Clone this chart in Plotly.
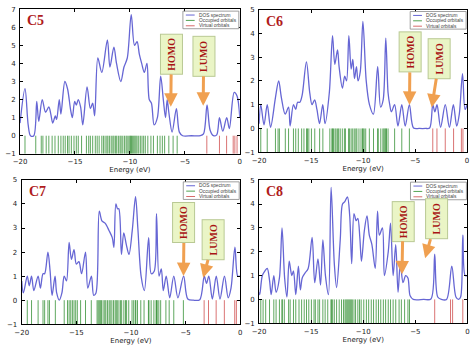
import plotly.graph_objects as go

W, H = 474, 351

# ---------------- data ----------------
panel_names = ["C5", "C6", "C7", "C8"]
y_max = [7, 5, 5, 5]
x_ticks = [-20, -15, -10, -5, 0]

c5_energy = [-20.0, -19.55, -19.26, -19.05, -18.75, -18.48, -18.30, -17.98, -17.68, -17.38,
             -17.20, -17.02, -16.79, -16.67, -16.43, -16.28, -15.92, -15.68, -15.39, -15.24,
             -15.03, -14.88, -14.70, -14.49, -14.29, -13.90, -13.60, -13.39, -13.21, -12.92,
             -12.56, -12.05, -11.82, -11.46, -11.22, -10.83, -10.54, -10.24, -9.88, -9.58,
             -9.35, -9.14, -8.93, -8.69, -8.45, -8.24, -8.04, -7.80, -7.50, -7.20,
             -6.96, -6.76, -6.61, -6.46, -6.16, -5.77, -5.50, -5.20, -4.40, -3.60,
             -3.30, -2.98, -2.70, -2.40, -2.10, -1.85, -1.55, -1.19, -0.95, -0.51,
             -0.25, 0.0]
c5_dos = [0.7, 2.6, 0.6, 0.0, 0.0, 1.9, 0.8, 2.0, 1.3, 1.6,
          1.2, 0.7, 1.1, 0.9, 2.0, 1.2, 3.0, 2.6, 1.4, 1.0,
          1.9, 1.7, 2.0, 1.6, 0.6, 2.7, 1.5, 1.8, 1.1, 4.3,
          3.5, 5.3, 3.8, 4.9, 4.0, 3.0, 3.8, 4.3, 6.7, 5.0,
          5.2, 4.5, 4.0, 3.5, 4.0, 2.0, 1.8, 0.6, 1.0, 3.3,
          2.0, 1.0, 2.0, 1.3, 0.2, 1.5, 0.2, 0.0, 0.0, 0.0,
          0.1, 1.7, 0.3, 0.0, 0.05, 1.0, 0.25, 1.0, 0.4, 2.4,
          2.2, 1.0]
c5_occupied = [-19.55, -18.57, -18.07, -17.92, -17.62, -17.38, -17.08, -16.82, -16.52, -16.28,
               -16.07, -15.89, -15.68, -15.54, -15.33, -15.09, -14.88, -14.70, -14.40, -13.96,
               -13.75, -13.60, -13.39, -13.15, -12.98, -12.80, -12.56, -12.41, -12.26, -12.10,
               -12.00, -11.85, -11.70, -11.55, -11.45, -11.30, -11.20, -11.05, -10.90, -10.80,
               -10.65, -10.50, -10.35, -10.25, -10.10, -10.00, -9.93, -9.85, -9.75, -9.65,
               -9.55, -9.45, -9.35, -9.20, -9.05, -8.90, -8.75, -8.60, -8.37, -8.09,
               -7.86, -7.50, -7.26, -7.05, -6.84, -6.46, -6.07, -5.70]
c5_virtual = [-3.0, -1.85, -1.2, -0.6, -0.45, -0.25]

c6_energy = [-20.0, -19.84, -19.53, -19.22, -18.90, -18.43, -18.12, -17.86, -17.49, -17.17,
             -17.02, -16.70, -16.48, -16.30, -16.08, -15.86, -15.45, -15.13, -14.91, -14.66,
             -14.44, -14.19, -13.88, -13.66, -13.25, -12.94, -12.72, -12.46, -12.31, -11.99,
             -11.77, -11.59, -11.37, -11.15, -10.99, -10.83, -10.64, -10.49, -10.27, -10.02,
             -9.70, -9.39, -9.01, -8.60, -8.32, -8.07, -7.82, -7.60, -7.44, -7.28,
             -6.97, -6.65, -6.28, -5.95, -5.55, -5.15, -4.60, -4.00, -3.60, -3.30,
             -3.10, -2.89, -2.55, -2.10, -1.70, -1.32, -1.00, -0.75, -0.44, -0.20,
             0.0]
c6_dos = [0.2, 1.0, 0.15, 1.0, 0.05, 1.3, 2.0, 1.3, 0.6, 0.9,
          0.1, 1.0, 0.8, 1.1, 1.1, 1.4, 2.8, 1.5, 1.0, 1.2,
          0.8, 0.2, 1.0, 0.2, 1.5, 3.9, 2.7, 3.3, 2.6, 1.7,
          2.2, 2.0, 3.9, 2.5, 2.9, 2.1, 2.6, 2.0, 2.4, 4.5,
          2.0, 1.0, 0.6, 2.6, 0.9, 1.2, 3.8, 1.5, 1.0, 0.7,
          1.0, 0.1, 1.0, 0.1, 1.0, 0.02, 0.0, 0.0, 0.02, 1.0,
          0.7, 1.0, 0.05, 1.0, 0.05, 1.0, 0.1, 0.6, 2.3, 0.8,
          1.0]
c6_occupied = [-19.84, -19.22, -18.43, -18.18, -18.05, -17.48, -17.17, -16.70, -16.48, -16.23,
               -15.91, -15.69, -15.44, -15.35, -15.22, -14.97, -14.65, -14.18, -13.87, -13.20,
               -13.00, -12.95, -12.85, -12.70, -12.60, -12.45, -12.35, -12.20, -12.00, -11.80,
               -11.70, -11.40, -11.30, -11.15, -11.00, -10.85, -10.70, -10.60, -10.40, -10.20,
               -10.05, -10.00, -9.90, -9.75, -9.40, -9.00, -8.60, -8.55, -8.30, -8.10,
               -8.00, -7.90, -7.82, -7.75, -7.60, -6.97, -6.28, -5.55]
c6_virtual = [-3.3, -2.9, -2.1, -1.3, -0.55, -0.4]

c7_energy = [-20.0, -19.85, -19.49, -19.31, -19.10, -18.89, -18.50, -18.29, -18.05, -17.90,
             -17.60, -17.40, -17.22, -16.95, -16.80, -16.56, -16.32, -16.11, -15.90, -15.66,
             -15.45, -15.21, -15.00, -14.76, -14.52, -14.16, -13.95, -13.62, -13.41, -13.20,
             -12.90, -12.66, -12.37, -12.01, -11.71, -11.56, -11.38, -11.23, -11.11, -10.87,
             -10.66, -10.42, -10.18, -9.88, -9.58, -9.37, -9.07, -8.77, -8.38, -8.14,
             -7.87, -7.66, -7.43, -7.22, -7.04, -6.77, -6.45, -6.08, -5.70, -5.18,
             -4.80, -4.30, -3.70, -3.29, -3.08, -2.87, -2.55, -2.19, -1.85, -1.44,
             -1.10, -0.84, -0.48, -0.22, 0.0]
c7_dos = [0.8, 0.3, 1.0, 0.6, 1.0, 0.4, 1.0, 0.5, 1.1, 1.1,
          2.0, 1.2, 0.2, 1.0, 0.3, 0.0, 0.3, 1.0, 0.8, 2.4,
          1.7, 2.1, 1.5, 1.6, 1.1, 2.0, 0.5, 1.0, 0.2, 0.3,
          3.7, 3.3, 3.2, 2.9, 2.6, 2.2, 4.0, 3.8, 3.8, 1.9,
          2.8, 2.3, 1.9, 2.9, 4.3, 3.0, 1.0, 0.4, 2.6, 1.1,
          1.2, 3.6, 1.0, 1.3, 0.4, 1.0, 0.1, 1.0, 0.1, 1.0,
          0.05, 0.0, 0.02, 1.0, 0.7, 1.0, 0.05, 1.0, 0.05, 1.0,
          0.1, 0.5, 2.2, 1.0, 1.0]
c7_occupied = [-19.49, -19.10, -18.50, -18.05, -17.90, -17.60, -17.46, -16.92, -16.11, -15.81,
               -15.66, -15.51, -15.36, -15.21, -15.06, -14.91, -14.61, -14.16, -13.63, -13.10,
               -13.00, -12.90, -12.80, -12.70, -12.55, -12.40, -12.30, -12.15, -12.00, -11.90,
               -11.75, -11.60, -11.45, -11.35, -11.25, -11.10, -10.95, -10.85, -10.65, -10.50,
               -10.40, -10.20, -9.90, -9.75, -9.60, -9.55, -9.40, -9.10, -8.80, -8.40,
               -8.35, -8.15, -7.90, -7.70, -7.65, -7.60, -7.45, -7.28, -6.80, -6.50,
               -6.08, -5.20]
c7_virtual = [-3.3, -2.9, -2.2, -1.45, -0.5, -0.35]

c8_energy = [-20.0, -19.94, -19.69, -19.43, -19.22, -19.00, -18.84, -18.59, -18.37, -18.05,
             -17.80, -17.55, -17.33, -17.11, -16.86, -16.70, -16.48, -16.23, -16.04, -15.86,
             -15.60, -15.29, -14.91, -14.66, -14.35, -14.10, -13.88, -13.63, -13.34, -13.09,
             -12.78, -12.56, -12.21, -11.99, -11.77, -11.52, -11.30, -11.11, -10.89, -10.68,
             -10.52, -10.33, -10.17, -9.89, -9.64, -9.42, -9.17, -8.85, -8.63, -8.45,
             -8.16, -7.97, -7.60, -7.38, -7.13, -6.88, -6.66, -6.44, -6.18, -5.93,
             -5.71, -5.50, -5.20, -4.20, -3.50, -3.14, -2.85, -2.50, -2.00, -1.50,
             -1.10, -0.85, -0.65, -0.44, -0.22, 0.0]
c8_dos = [0.3, 0.2, 1.0, 1.2, 1.3, 0.8, 0.2, 1.0, 0.3, 0.9,
          3.0, 0.9, 0.1, 1.6, 1.0, 1.2, 0.2, 1.4, 0.4, 0.9,
          1.1, 1.3, 2.6, 0.7, 1.7, 0.6, 2.5, 1.0, 0.2, 4.7,
          1.5, 0.5, 2.5, 4.0, 4.1, 4.3, 3.5, 1.5, 3.6, 3.3,
          3.4, 2.6, 1.6, 2.9, 3.5, 2.7, 2.3, 1.3, 3.7, 2.7,
          3.0, 1.0, 2.0, 3.2, 1.0, 2.3, 0.3, 1.5, 0.7, 1.0,
          0.9, 0.15, 0.0, 0.0, 0.02, 1.9, 0.1, 0.0, 0.0, 1.4,
          0.1, 0.0, 0.1, 2.7, 1.0, 1.0]
c8_occupied = [-19.84, -19.62, -19.37, -19.00, -18.59, -18.37, -18.05, -17.80, -17.78, -17.58,
               -17.17, -17.02, -16.70, -16.48, -16.17, -15.92, -15.67, -15.45, -15.23, -14.98,
               -14.73, -14.60, -14.35, -14.19, -13.88, -13.66, -13.41, -13.09, -13.07, -12.94,
               -12.78, -12.56, -12.31, -12.09, -11.90, -11.75, -11.65, -11.55, -11.45, -11.35,
               -11.25, -11.15, -11.05, -10.89, -10.74, -10.52, -10.36, -10.20, -9.95, -9.70,
               -9.48, -9.23, -9.01, -8.76, -8.54, -8.32, -8.07, -7.85, -7.60, -7.38,
               -7.13, -6.88, -6.56, -6.34, -6.03, -5.71, -5.56]
c8_virtual = [-3.14, -1.62, -1.42, -0.44]

energies = [c5_energy, c6_energy, c7_energy, c8_energy]
dos_values = [c5_dos, c6_dos, c7_dos, c8_dos]
occupied = [c5_occupied, c6_occupied, c7_occupied, c8_occupied]
virtual = [c5_virtual, c6_virtual, c7_virtual, c8_virtual]

# arrow annotations: (text, tip energy, tip dos, box energy, box dos)
homo_lumo = [
    [("HOMO", -6.28, 1.6, -6.23, 4.5), ("LUMO", -3.33, 1.66, -3.29, 4.4)],
    [("HOMO", -5.54, 0.99, -5.49, 3.2), ("LUMO", -3.40, 0.88, -2.66, 2.93)],
    [("HOMO", -5.19, 1.0, -5.14, 3.21), ("LUMO", -3.39, 0.93, -2.45, 2.51)],
    [("HOMO", -6.28, 1.05, -6.19, 3.28), ("LUMO", -4.06, 1.73, -3.0, 3.37)],
]
legend_labels = ["DOS spectrum", "Occupied orbitals", "Virtual orbitals"]

# ---------------- style / layout ----------------
DOS_COLOR = "#6666d4"
OCC_COLOR = "rgba(34,135,34,0.72)"
VIRT_COLOR = "rgba(205,70,70,0.75)"
LEG_COLORS = [DOS_COLOR, "rgba(40,140,40,0.8)", "rgba(205,70,70,0.8)"]

# axes boxes in pixels: left, right, top, bottom
boxes = [(13.3, 237.3, 5.3, 153.3), (257.0, 469.0, 5.7, 151.7),
         (15.0, 237.7, 180.0, 327.7), (257.0, 469.3, 180.3, 326.7)]


def px(x):
    return x / W


def py(y):
    return 1 - y / H


def sticks(vals):
    xs, ys = [], []
    for e in vals:
        xs += [e, e, None]
        ys += [-1, 0, None]
    return xs, ys


fig = go.Figure()
layout = dict(width=W, height=H, margin=dict(l=0, r=0, t=0, b=0),
              paper_bgcolor="white", plot_bgcolor="white", showlegend=False,
              font=dict(family="DejaVu Sans", color="#222"))
annotations, shapes = [], []

for i in range(4):
    n = "" if i == 0 else str(i + 1)
    xa, ya = "x" + n, "y" + n
    l, r, t, b = boxes[i]
    layout["xaxis" + n] = dict(
        domain=[px(l), px(r)], range=[-20, 0], anchor=ya, tickvals=x_ticks,
        showline=True, mirror="ticks", linecolor="black", linewidth=1,
        ticks="inside", ticklen=3, tickwidth=0.8, tickcolor="black",
        showgrid=False, zeroline=False, tickfont=dict(size=7, color="#222"),
        ticklabelstandoff=1,
        title=dict(text="Energy (eV)", font=dict(size=7, color="#222"), standoff=1))
    layout["yaxis" + n] = dict(
        domain=[py(b), py(t)], range=[-1, y_max[i]], anchor=xa, dtick=1,
        showline=True, mirror="ticks", linecolor="black", linewidth=1,
        ticks="inside", ticklen=3, tickwidth=0.8, tickcolor="black",
        showgrid=False, zeroline=False, tickfont=dict(size=7, color="#222"),
        ticklabelstandoff=2)

    sx, sy = sticks(occupied[i])
    fig.add_trace(go.Scatter(x=sx, y=sy, mode="lines", xaxis=xa, yaxis=ya,
                             line=dict(color=OCC_COLOR, width=1), name=legend_labels[1]))
    sx, sy = sticks(virtual[i])
    fig.add_trace(go.Scatter(x=sx, y=sy, mode="lines", xaxis=xa, yaxis=ya,
                             line=dict(color=VIRT_COLOR, width=1), name=legend_labels[2]))
    fig.add_trace(go.Scatter(x=energies[i], y=dos_values[i], mode="lines", xaxis=xa, yaxis=ya,
                             line=dict(color=DOS_COLOR, width=1.3, shape="spline", smoothing=0.9),
                             name=legend_labels[0]))

    # panel label
    annotations.append(dict(text="<b>" + panel_names[i] + "</b>", xref="paper", yref="paper",
                            x=px(l + 5), y=py(t + 12), xanchor="left", yanchor="middle",
                            showarrow=False,
                            font=dict(family="Liberation Serif", size=14, color="#b01c1c")))

    # HOMO / LUMO boxes with arrows
    for (txt, tx, ty, bx, by) in homo_lumo[i]:
        annotations.append(dict(
            text="<b>" + txt + "</b>", x=tx, y=ty, ax=bx, ay=by, xref=xa, yref=ya,
            axref=xa, ayref=ya, showarrow=True, arrowhead=2, arrowsize=0.9, arrowwidth=3,
            arrowcolor="#f0a050", textangle=-90, width=37, height=19, borderpad=1,
            bgcolor="#eaf5c6", bordercolor="#b9c994", borderwidth=1,
            font=dict(family="Liberation Serif", size=10, color="#a81414")))

    # legend box
    lb_r = r - 1
    lb_l = lb_r - 57
    lb_t = t + 2
    lb_b = t + 20
    shapes.append(dict(type="rect", xref="paper", yref="paper",
                       x0=px(lb_l), x1=px(lb_r), y0=py(lb_b), y1=py(lb_t),
                       line=dict(color="#888", width=0.8), fillcolor="white"))
    for k in range(3):
        yy = lb_t + 4 + 5.5 * k
        shapes.append(dict(type="line", xref="paper", yref="paper",
                           x0=px(lb_l + 3), x1=px(lb_l + 12), y0=py(yy), y1=py(yy),
                           line=dict(color=LEG_COLORS[k], width=1)))
        annotations.append(dict(text=legend_labels[k], xref="paper", yref="paper",
                                x=px(lb_l + 14), y=py(yy), xanchor="left", yanchor="middle",
                                showarrow=False,
                                font=dict(family="Liberation Sans", size=4.8, color="#444")))

layout["annotations"] = annotations
layout["shapes"] = shapes
fig.update_layout(**layout)
fig.write_html("out.html")
